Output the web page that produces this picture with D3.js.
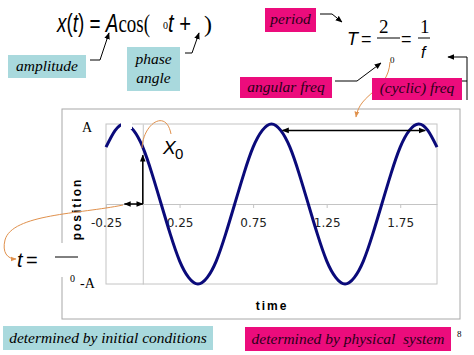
<!DOCTYPE html>
<html>
<head>
<meta charset="utf-8">
<script src="https://d3js.org/d3.v7.min.js"></script>
<style>
  body { margin: 0; background: #fff; }
  svg { display: block; }
</style>
</head>
<body>
<svg id="slide" width="474" height="355"></svg>
<script>
// values
const tickLabels = [-0.25, 0.25, 0.75, 1.25, 1.75];
const timeValues = [-0.25, -0.1875, -0.125, -0.0625, 0, 0.0625, 0.125, 0.1875, 0.25, 0.3125,
    0.375, 0.4375, 0.5, 0.5625, 0.625, 0.6875, 0.75, 0.8125, 0.875, 0.9375,
    1, 1.0625, 1.125, 1.1875, 1.25, 1.3125, 1.375, 1.4375, 1.5, 1.5625,
    1.625, 1.6875, 1.75, 1.8125, 1.875, 1.9375, 2];
const positionValues = [0.71, 0.92, 1, 0.92, 0.71, 0.38, 0, -0.38, -0.71, -0.92,
    -1, -0.92, -0.71, -0.38, 0, 0.38, 0.71, 0.92, 1, 0.92,
    0.71, 0.38, 0, -0.38, -0.71, -0.92, -1, -0.92, -0.71, -0.38,
    0, 0.38, 0.71, 0.92, 1, 0.92, 0.71];
const x0Value = 0.61;      // height of the x0 arrow
const phaseShift = -0.125; // t = -phi/omega0
const periodArrow = [0.95, 1.92];
const periodArrowY = 0.92;

const blue = "#a9d9dd";
const pink = "#ec0c7c";
const pinkText = "#2b0018";
const orange = "#e0914d";
const grid = "#c4c4c4";

const svg = d3.select("#slide");
const serif = "'Liberation Serif', 'Times New Roman', serif";
const sans = "'Liberation Sans', Arial, sans-serif";

// markers
const defs = svg.append("defs");
function marker(id, color, size) {
    defs.append("marker")
        .attr("id", id)
        .attr("viewBox", "0 0 10 10")
        .attr("refX", 9).attr("refY", 5)
        .attr("markerUnits", "userSpaceOnUse")
        .attr("markerWidth", size).attr("markerHeight", size)
        .attr("orient", "auto-start-reverse")
        .append("path")
        .attr("d", "M0,1 L10,5 L0,9 Z")
        .attr("fill", color);
}
marker("arrowBlack", "#000", 7);
marker("arrowOrange", orange, 6);

// chart frame
svg.append("rect")
    .attr("x", 62).attr("y", 109).attr("width", 398).attr("height", 210)
    .attr("fill", "#fff").attr("stroke", "#a8a8a8");

const x = d3.scaleLinear().domain([-0.25, 2]).range([106, 437]);
const y = d3.scaleLinear().domain([-1, 1]).range([284, 124]);

svg.append("rect")
    .attr("x", x(-0.25)).attr("y", y(1))
    .attr("width", x(2) - x(-0.25)).attr("height", y(-1) - y(1))
    .attr("fill", "none").attr("stroke", grid);

// x axis through zero
const xAxis = svg.append("g")
    .attr("transform", `translate(0,${y(0)})`)
    .call(d3.axisBottom(x).tickValues(tickLabels).tickSize(4).tickSizeOuter(0).tickPadding(10)
        .tickFormat(d => d.toFixed(2)));
xAxis.select(".domain").attr("stroke", grid);
xAxis.selectAll(".tick line").attr("stroke", grid);
xAxis.selectAll(".tick text")
    .attr("font-family", "'DejaVu Sans', Verdana, sans-serif")
    .attr("font-size", 12).attr("fill", "#222");

// y axis at t = 0
const yAxis = svg.append("g")
    .attr("transform", `translate(${x(0)},0)`)
    .call(d3.axisLeft(y).tickValues([]).tickSizeOuter(0));
yAxis.select(".domain").attr("stroke", grid);

// axis titles
svg.append("text")
    .attr("transform", "translate(81,209) rotate(-90)")
    .attr("text-anchor", "middle")
    .attr("font-family", sans).attr("font-weight", "bold")
    .attr("font-size", 12).attr("letter-spacing", 2)
    .text("position");
svg.append("text")
    .attr("x", 272).attr("y", 310)
    .attr("text-anchor", "middle")
    .attr("font-family", sans).attr("font-weight", "bold")
    .attr("font-size", 12).attr("letter-spacing", 2)
    .text("time");

// the cosine
const data = timeValues.map((t, i) => ({ t: t, v: positionValues[i] }));
svg.append("path")
    .datum(data)
    .attr("d", d3.line().x(d => x(d.t)).y(d => y(d.v)).curve(d3.curveNatural))
    .attr("fill", "none")
    .attr("stroke", "#0a0a7a")
    .attr("stroke-width", 3);

// white patches from the slide
svg.append("rect").attr("x", 121).attr("y", 118).attr("width", 11).attr("height", 11).attr("fill", "#fff");
svg.append("rect").attr("x", 40).attr("y", 243).attr("width", 60).attr("height", 34).attr("fill", "#fff");

// A and -A
svg.append("text").attr("x", 82).attr("y", 132)
    .attr("font-family", serif).attr("font-size", 14).text("A");
svg.append("text").attr("x", 80).attr("y", 288)
    .attr("font-family", serif).attr("font-size", 14).text("-A");

// orange connectors
const orangePaths = [
    "M142,148 C143,124 166,108 171,134",
    "M123,205 C80,214 12,214 5,240 C2,252 7,259 16,259",
    "M390,62 C388,92 360,92 356,117"
];
svg.selectAll(".orange")
    .data(orangePaths)
    .enter().append("path")
    .attr("class", "orange")
    .attr("d", d => d)
    .attr("fill", "none")
    .attr("stroke", orange)
    .attr("stroke-width", 1)
    .attr("marker-end", (d, i) => i === 0 ? null : "url(#arrowOrange)");

// arrows inside the plot
svg.append("line")
    .attr("x1", x(0)).attr("y1", y(0))
    .attr("x2", x(0)).attr("y2", y(x0Value))
    .attr("stroke", "#000").attr("stroke-width", 1.5)
    .attr("marker-end", "url(#arrowBlack)");
svg.append("line")
    .attr("x1", x(phaseShift)).attr("y1", y(0))
    .attr("x2", x(0)).attr("y2", y(0))
    .attr("stroke", "#000").attr("stroke-width", 1.5)
    .attr("marker-start", "url(#arrowBlack)")
    .attr("marker-end", "url(#arrowBlack)");
svg.append("line")
    .attr("x1", x(periodArrow[0])).attr("y1", y(periodArrowY))
    .attr("x2", x(periodArrow[1])).attr("y2", y(periodArrowY))
    .attr("stroke", "#000").attr("stroke-width", 1.5)
    .attr("marker-start", "url(#arrowBlack)")
    .attr("marker-end", "url(#arrowBlack)");

// x0 label
svg.append("text").attr("x", 163).attr("y", 154)
    .attr("font-family", sans).attr("font-style", "italic").attr("font-size", 19).text("X");
svg.append("text").attr("x", 175).attr("y", 159)
    .attr("font-family", sans).attr("font-size", 15).text("0");

// t = -phi/omega0 (symbols missing as on the slide)
svg.append("text").attr("x", 17).attr("y", 267)
    .attr("font-family", sans).attr("font-style", "italic").attr("font-size", 20).text("t");
svg.append("text").attr("x", 26).attr("y", 267)
    .attr("font-family", sans).attr("font-size", 20).text("=");
svg.append("line").attr("x1", 55).attr("x2", 78).attr("y1", 257).attr("y2", 257)
    .attr("stroke", "#000").attr("stroke-width", 1);
svg.append("text").attr("x", 70).attr("y", 282)
    .attr("font-family", serif).attr("font-size", 10).text("0");

// black annotation arrows outside the plot
const blackPaths = [
    "M90,60 L100,60 L109,33",
    "M185,53 L192,53 L199,33",
    "M320,14 L332,14 L342,22",
    "M335,81 L357,81 L381,63",
    "M462,81 L467,81 M467,100 L467,57 L448,57"
];
svg.selectAll(".black")
    .data(blackPaths)
    .enter().append("path")
    .attr("class", "black")
    .attr("d", d => d)
    .attr("fill", "none")
    .attr("stroke", "#000")
    .attr("stroke-width", 1)
    .attr("marker-end", "url(#arrowBlack)");

// top formula x(t) = A cos(w0 t + phi), squeezed sideways like the slide
function squeezed(left, width, build) {
    const g = svg.append("g");
    const t = g.append("text").attr("x", 0).attr("y", 0)
        .attr("font-family", sans).attr("font-size", 25);
    build(t);
    const len = t.node().getComputedTextLength();
    g.attr("transform", `translate(${left},32) scale(${width / len},1)`);
}
squeezed(57, 93, t => {
    t.append("tspan").attr("font-style", "italic").text("x");
    t.append("tspan").text("(");
    t.append("tspan").attr("font-style", "italic").text("t");
    t.append("tspan").text(") = ");
    t.append("tspan").attr("font-style", "italic").text("A");
    t.append("tspan").attr("font-family", serif).text("cos(");
});
squeezed(168, 23, t => {
    t.append("tspan").attr("font-style", "italic").text("t");
    t.append("tspan").text(" +");
});
svg.append("text").attr("x", 163).attr("y", 29)
    .attr("font-family", serif).attr("font-size", 10).text("0");
svg.append("text").attr("x", 204).attr("y", 32)
    .attr("font-family", serif).attr("font-size", 24).text(")");

// period formula T = 2pi/w0 = 1/f
svg.append("text").attr("x", 347).attr("y", 45)
    .attr("font-family", sans).attr("font-style", "italic").attr("font-size", 18).text("T");
svg.append("text").attr("x", 361).attr("y", 45)
    .attr("font-family", sans).attr("font-size", 18).text("=");
svg.append("text").attr("x", 379).attr("y", 33)
    .attr("font-family", serif).attr("font-size", 19).text("2");
svg.append("line").attr("x1", 377).attr("x2", 400).attr("y1", 38).attr("y2", 38)
    .attr("stroke", "#000").attr("stroke-width", 1);
svg.append("text").attr("x", 401).attr("y", 45)
    .attr("font-family", sans).attr("font-size", 18).text("=");
svg.append("text").attr("x", 420).attr("y", 33)
    .attr("font-family", serif).attr("font-size", 19).text("1");
svg.append("line").attr("x1", 418).attr("x2", 430).attr("y1", 38).attr("y2", 38)
    .attr("stroke", "#000").attr("stroke-width", 1);
svg.append("text").attr("x", 421).attr("y", 58)
    .attr("font-family", sans).attr("font-style", "italic").attr("font-size", 16).text("f");
svg.append("text").attr("x", 390).attr("y", 63)
    .attr("font-family", serif).attr("font-size", 9).text("0");

// label boxes
const boxes = [
    { x: 8, y: 55, w: 78, h: 23, fill: blue, color: "#000", lines: ["amplitude"], base: 71 },
    { x: 127, y: 47, w: 53, h: 44, fill: blue, color: "#000", lines: ["phase", "angle"], base: 64 },
    { x: 265, y: 8, w: 51, h: 24, fill: pink, color: pinkText, lines: ["period"], base: 24 },
    { x: 240, y: 77, w: 92, h: 21, fill: pink, color: pinkText, lines: ["angular freq"], base: 92 },
    { x: 372, y: 78, w: 90, h: 22, fill: pink, color: pinkText, lines: ["(cyclic) freq"], base: 93 },
    { x: 3, y: 326, w: 210, h: 24, fill: blue, color: "#000", lines: ["determined by initial conditions"], base: 343 },
    { x: 245, y: 327, w: 206, h: 24, fill: pink, color: pinkText, lines: ["determined by physical  system"], base: 344 }
];
const boxG = svg.selectAll(".box")
    .data(boxes)
    .enter().append("g")
    .attr("class", "box");
boxG.append("rect")
    .attr("x", d => d.x).attr("y", d => d.y)
    .attr("width", d => d.w).attr("height", d => d.h)
    .attr("fill", d => d.fill);
boxG.each(function(d) {
    const t = d3.select(this).append("text")
        .attr("x", d.x + d.w / 2)
        .attr("text-anchor", "middle")
        .attr("font-family", serif).attr("font-style", "italic")
        .attr("font-size", 15.5)
        .attr("fill", d.color)
        .style("white-space", "pre");
    d.lines.forEach((line, i) => {
        t.append("tspan").attr("x", d.x + d.w / 2).attr("y", d.base + i * 19).text(line);
    });
});

// slide number
svg.append("text").attr("x", 457).attr("y", 337)
    .attr("font-family", serif).attr("font-size", 9).text("8");
</script>
</body>
</html>
